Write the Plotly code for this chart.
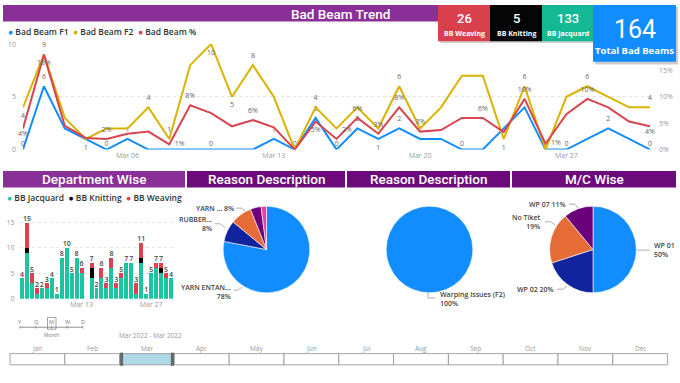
import plotly.graph_objects as go

W, H = 680, 383
def X(px): return px / W
def Y(py): return 1 - py / H

# ---------------- data ----------------
days = [f"2022-03-{d:02d}" for d in range(1, 32)]

bad_beam_f1 = [0, 6, 2, 1, 0, 1, 0, 0, 0, 0, 0, 0, 1, 0, 3, 0, 2, 1, 2, 1, 1, 0, 0, 2, 4, 0, 0, 1, 2, 1, 0]
bad_beam_f2 = [4, 9, 3, 1, 2, 2, 4, 1, 8, 10, 5, 8, 5, 0, 4, 2, 4, 2, 6, 2, 4, 7, 7, 1, 6, 0, 5, 6, 5, 4, 4]
bad_beam_pct = [4.0, 18.0, 4.5, 2.2, 2.0, 3.0, 3.4, 1.0, 8.4, 6.9, 4.4, 5.6, 4.2, 0.0, 5.3, 2.0,
                6.0, 3.0, 8.0, 3.4, 3.7, 6.0, 6.0, 3.3, 9.6, 1.1, 6.7, 9.6, 8.0, 5.3, 4.4]

bb_jacquard = [4, 9, 3, 1, 2, 2, 4, 1, 8, 10, 5, 8, 5, 0, 4, 2, 4, 2, 6, 2, 4, 7, 7, 1, 7, 1, 5, 6, 5, 4, 4]
bb_knitting = [0, 1, 0, 0, 0, 0, 0, 0, 0, 0, 0, 0, 0, 0, 2, 0, 0, 0, 0, 0, 0, 0, 0, 0, 1, 0, 0, 0, 1, 0, 0]
bb_weaving = [0, 5, 2, 1, 0, 1, 0, 0, 0, 0, 0, 0, 1, 0, 1, 0, 2, 1, 2, 1, 1, 0, 0, 2, 3, 0, 0, 1, 1, 1, 0]

reason_labels = ["YARN ENTAN...", "RUBBER...", "YARN ...", "OTHER 1", "OTHER 2"]
reason_values = [78, 8, 8, 4, 2]
warping_labels = ["Warping Issues (F2)"]
warping_values = [100]
mc_labels = ["WP 01", "WP 02", "No Tiket", "WP 07"]
mc_values = [50, 20, 19, 11]

months = ["Jan", "Feb", "Mar", "Apr", "May", "Jun", "Jul", "Aug", "Sep", "Oct", "Nov", "Dec"]
selected_month = "Mar"

# ---------------- styles ----------------
BLUE, GOLD, RED = "#118DFF", "#D9B300", "#D64550"
TEAL, BLACK, WRED = "#1CC4A0", "#000000", "#E0404F"
NAVY, ORANGE, PURPLE, PINK = "#12239E", "#E66C37", "#6B007B", "#E044A7"
PURPLE_A, PURPLE_B = "#8A2F98", "#6C0A7C"
FONT = "Open Sans"
TFONT = "Roboto"

f1_lab = {1: 'top center', 2: 'top center', 4: 'bottom center', 5: 'top center', 6: 'top center',
          10: 'top center', 13: 'top center', 14: 'top center', 15: 'top center', 16: 'top center',
          17: 'top center', 18: 'bottom center', 19: 'top center', 22: 'top center', 27: 'top center',
          29: 'top center', 31: 'top center'}
f2_lab = {1: 'bottom center', 2: 'top center', 7: 'top center', 8: 'top center', 10: 'bottom center',
          11: 'bottom center', 12: 'top center', 15: 'top center', 19: 'top center', 24: 'bottom center',
          25: 'top center', 28: 'top center', 31: 'top center'}
pct_lab = {1: 'bottom center', 2: 'bottom center', 5: 'top center', 8: 'middle right', 9: 'top center',
           12: 'top center', 15: 'bottom center', 16: 'top right', 17: 'top center', 18: 'top center',
           19: 'top center', 20: 'top center', 23: 'top center', 25: 'top center', 26: 'middle right',
           28: 'top center', 31: 'bottom center'}
# label offset (invisible marker size) per point
f1_gap = {i + 1: (2 if v == 0 else 7) for i, v in enumerate(bad_beam_f1)}
pct_gap = {1: 2, 31: 2}

def labels(vals, spec, fmt):
    txt = [fmt(v) if (i + 1) in spec else "" for i, v in enumerate(vals)]
    pos = [spec.get(i + 1, 'top center') for i in range(len(vals))]
    return txt, pos

def ghost(gap=None, n=31):
    sizes = [(gap or {}).get(i + 1, 7) for i in range(n)]
    return dict(size=sizes, opacity=0, color="rgba(0,0,0,0)", line=dict(width=0))

fig = go.Figure()

lab_font = dict(size=7, color="#666", family=FONT)
t, p = labels(bad_beam_f1, f1_lab, lambda v: f"{v}")
fig.add_trace(go.Scatter(x=days, y=bad_beam_f1, mode="lines+markers+text", text=t, textposition=p,
                         line=dict(color=BLUE, width=2), marker=ghost(f1_gap), textfont=lab_font,
                         cliponaxis=False, name="Bad Beam F1", xaxis="x", yaxis="y"))
t, p = labels(bad_beam_f2, f2_lab, lambda v: f"{v}")
fig.add_trace(go.Scatter(x=days, y=bad_beam_f2, mode="lines+markers+text", text=t, textposition=p,
                         line=dict(color=GOLD, width=2), marker=ghost(), textfont=lab_font,
                         cliponaxis=False, name="Bad Beam F2", xaxis="x", yaxis="y"))
t, p = labels(bad_beam_pct, pct_lab, lambda v: f"{round(v)}%")
fig.add_trace(go.Scatter(x=days, y=[v / 100 for v in bad_beam_pct], mode="lines+markers+text", text=t,
                         textposition=p, line=dict(color=RED, width=2), marker=ghost(pct_gap),
                         textfont=lab_font, cliponaxis=False, name="Bad Beam %", xaxis="x", yaxis="y2"))

# stacked bars
for name, vals, col in [("BB Jacquard", bb_jacquard, TEAL), ("BB Knitting", bb_knitting, BLACK),
                        ("BB Weaving", bb_weaving, WRED)]:
    fig.add_trace(go.Bar(x=days, y=vals, name=name, marker=dict(color=col, line=dict(width=0)),
                         xaxis="x3", yaxis="y3"))
totals = [a + b + c for a, b, c in zip(bb_jacquard, bb_knitting, bb_weaving)]
fig.add_trace(go.Scatter(x=days, y=totals, mode="text", text=[str(v) if v else "" for v in totals],
                         textposition="top center", cliponaxis=False,
                         textfont=dict(size=7, color="#444", family=FONT, weight=600),
                         xaxis="x3", yaxis="y3", showlegend=False))

# pies
def pie_dom(cx, cy, r):
    return dict(x=[X(cx - r), X(cx + r)], y=[Y(cy + r), Y(cy - r)])

pie_common = dict(sort=False, direction="clockwise", rotation=0, textinfo="none",
                  marker_line=dict(color="white", width=0.6), showlegend=False)
fig.add_trace(go.Pie(labels=reason_labels, values=reason_values, domain=pie_dom(266.5, 250.4, 44.4),
                     marker_colors=[BLUE, NAVY, ORANGE, PURPLE, PINK], **pie_common))
fig.add_trace(go.Pie(labels=warping_labels, values=warping_values, domain=pie_dom(429.5, 250.4, 44.4),
                     marker_colors=[BLUE], **pie_common))
fig.add_trace(go.Pie(labels=mc_labels, values=mc_values, domain=pie_dom(593, 250.4, 44.4),
                     marker_colors=[BLUE, NAVY, ORANGE, PURPLE], **pie_common))

shapes, annots = [], []

def rect(x0, y0, x1, y1, fill, line_color=None, lw=0, layer="below"):
    shapes.append(dict(type="rect", xref="paper", yref="paper", x0=X(x0), x1=X(x1), y0=Y(y1), y1=Y(y0),
                       fillcolor=fill, line=dict(width=lw, color=line_color or fill), layer=layer))

def poly(pts, color="#9a9a9a", w=0.8):
    d = "M " + " L ".join(f"{X(a)},{Y(b)}" for a, b in pts)
    shapes.append(dict(type="path", xref="paper", yref="paper", path=d, line=dict(color=color, width=w)))

def text(x, y, s, size, color, xanchor="center", weight=400, family=FONT, align="center"):
    annots.append(dict(xref="paper", yref="paper", x=X(x), y=Y(y), text=s, showarrow=False,
                       xanchor=xanchor, yanchor="middle", align=align,
                       font=dict(size=size, color=color, family=family, weight=weight)))

# header bars
rect(3, 0, 438, 17, PURPLE_A)
text(340, 9, "Bad Beam Trend", 13.5, "white", weight=500, family=TFONT)
rect(3, 170, 185, 187, PURPLE_A)
text(94, 178.5, "Department Wise", 13.5, "white", weight=500, family=TFONT)
for x0, x1, s in [(187, 345, "Reason Description"), (347, 510, "Reason Description"), (512, 676, "M/C Wise")]:
    rect(x0, 170, x1, 187, PURPLE_B)
    text((x0 + x1) / 2, 178.5, s, 13.5, "white", weight=500, family=TFONT)

# KPI cards
kpis = [("BB Weaving", sum(bb_weaving), "#D9404E", 438, 490),
        ("BB Knitting", sum(bb_knitting), "#050505", 490, 542),
        ("BB Jacquard", sum(bb_jacquard), "#14B894", 542, 593)]
for lab, val, col, x0, x1 in kpis:
    rect(x0 + 2, 2, x1 + 2, 39, "rgba(0,0,0,0.18)", layer="above")
for lab, val, col, x0, x1 in kpis:
    rect(x0, 0, x1, 37, col, layer="above")
    text((x0 + x1) / 2, 14, str(val), 13, "white", weight=500, family=TFONT)
    text((x0 + x1) / 2, 29.5, lab, 7, "white", weight=700)
total = sum(bb_weaving) + sum(bb_knitting) + sum(bb_jacquard)
rect(595, 2, 678, 61, "rgba(0,0,0,0.2)", layer="above")
rect(593, 0, 676, 58, BLUE, layer="above")
text(634.5, 25, str(total), 25, "white", weight=400, family=TFONT)
text(634.5, 46.5, "Total Bad Beams", 9.5, "white", weight=700)

# legends
def dot(c):
    return f"<span style='color:{c}'>●</span>"
text(6, 27, f"{dot(BLUE)} Bad Beam F1  {dot(GOLD)} Bad Beam F2  {dot(RED)} Bad Beam %", 8.5, "#333",
     xanchor="left", weight=600)
text(5, 197, f"{dot(TEAL)} BB Jacquard  {dot(BLACK)} BB Knitting  {dot(WRED)} BB Weaving", 8.5, "#333",
     xanchor="left", weight=600)

# pie labels
def pct(vals):
    s = sum(vals)
    return [round(100 * v / s) for v in vals]

lf = 7
pl = dict(zip(reason_labels, pct(reason_values)))
text(233, 294, f"{reason_labels[0]}<br>{pl[reason_labels[0]]}%", lf, "#444", "right", 600, align="right")
text(214, 224, f"{reason_labels[1]}<br>{pl[reason_labels[1]]}%", lf, "#444", "right", 600, align="right")
text(236, 208, f"{reason_labels[2]} {pl[reason_labels[2]]}%", lf, "#444", "right", 600)
poly([(236, 208), (242, 208), (245, 211)])
poly([(215, 224), (220, 224), (225, 228)])
poly([(234, 292), (238, 292), (242, 289)])

wl = pct(warping_values)
text(438, 301, f"{warping_labels[0]}<br>{wl[0]}%", lf, "#444", "left", 600, align="left")
poly([(428, 294), (428, 300), (435, 300)])

ml = dict(zip(mc_labels, pct(mc_values)))
text(652, 251, f"WP 01<br>{ml['WP 01']}%", lf, "#444", "left", 600, align="left")
text(556, 291, f"WP 02 {ml['WP 02']}%", lf, "#444", "right", 600)
text(543, 222, f"No Tiket<br>{ml['No Tiket']}%", lf, "#444", "right", 600, align="right")
text(568, 204, f"WP 07 {ml['WP 07']}%", lf, "#444", "right", 600)
poly([(569, 204), (575, 204), (578, 208)])
poly([(545, 222), (551, 222), (555, 225)])
poly([(557, 291), (563, 291), (567, 288)])
poly([(637, 251), (650, 251)])

# timeline slicer
for i, lv in enumerate(["Y", "Q", "M", "W", "D"]):
    xx = 20 + i * 15.7
    text(xx, 325, lv, 5.5, "#777")
    poly([(xx, 328.5), (xx, 331.5)], "#777", 0.7)
poly([(20, 330), (82.8, 330)], "#777", 0.8)
shapes.append(dict(type="rect", xref="paper", yref="paper", x0=X(47.5), x1=X(56), y0=Y(332), y1=Y(320),
                   line=dict(color="#888", width=0.8), fillcolor="rgba(0,0,0,0)"))
text(51.5, 337.5, "Month", 5, "#777")
text(150, 338, "Mar 2022 - Mar 2022", 6.5, "#999")

bx0, bw = 10, 54.8
for i, m in enumerate(months):
    x0 = bx0 + i * bw
    text(x0 + bw / 2, 352, m, 6.5, "#999")
    rect(x0, 357, x0 + bw, 368.5, "#ADD8E6" if m == selected_month else "white", "#8f8f8f", 0.8)
    if m == selected_month:
        rect(x0 + 0.5, 356, x0 + 3.5, 369.5, "#666", "#666", 0)
        rect(x0 + bw - 3.5, 356, x0 + bw - 0.5, 369.5, "#666", "#666", 0)

tick_font = dict(size=7, color="#999", family=FONT)
fig.update_layout(
    width=W, height=H, margin=dict(l=0, r=0, t=0, b=0), paper_bgcolor="white", plot_bgcolor="white",
    showlegend=False, barmode="stack", bargap=0.2,
    shapes=shapes, annotations=annots,
    xaxis=dict(domain=[X(23), X(650)], anchor="y", type="date", range=["2022-03-01", "2022-03-31"],
               tickvals=["2022-03-06", "2022-03-13", "2022-03-20", "2022-03-27"], tickformat="%b %d",
               tickfont=tick_font, showgrid=False, zeroline=False, showline=False, ticks=""),
    yaxis=dict(domain=[Y(148), Y(40)], anchor="x", range=[0, 10], tickvals=[0, 5, 10],
               tickfont=tick_font, gridcolor="#e3e3e3", griddash="dot", zeroline=False,
               ticklabelstandoff=6),
    yaxis2=dict(overlaying="y", side="right", anchor="x", range=[0, 0.2],
                tickvals=[0, 0.05, 0.1, 0.15], tickformat=".0%", tickfont=tick_font,
                showgrid=False, zeroline=False, ticklabelstandoff=8),
    xaxis3=dict(domain=[X(19.5), X(173.5)], anchor="y3", type="date",
                range=["2022-02-28 12:00", "2022-03-31 12:00"],
                tickvals=["2022-03-13", "2022-03-27"], tickformat="%b %d", tickfont=tick_font,
                showgrid=False, zeroline=False, ticks=""),
    yaxis3=dict(domain=[Y(300.7), Y(215)], anchor="x3", range=[0, 16.5], tickvals=[0, 5, 10, 15],
                tickfont=tick_font, gridcolor="#e3e3e3", griddash="dot", zeroline=False,
                ticklabelstandoff=4),
)

fig.write_html("out.html")
